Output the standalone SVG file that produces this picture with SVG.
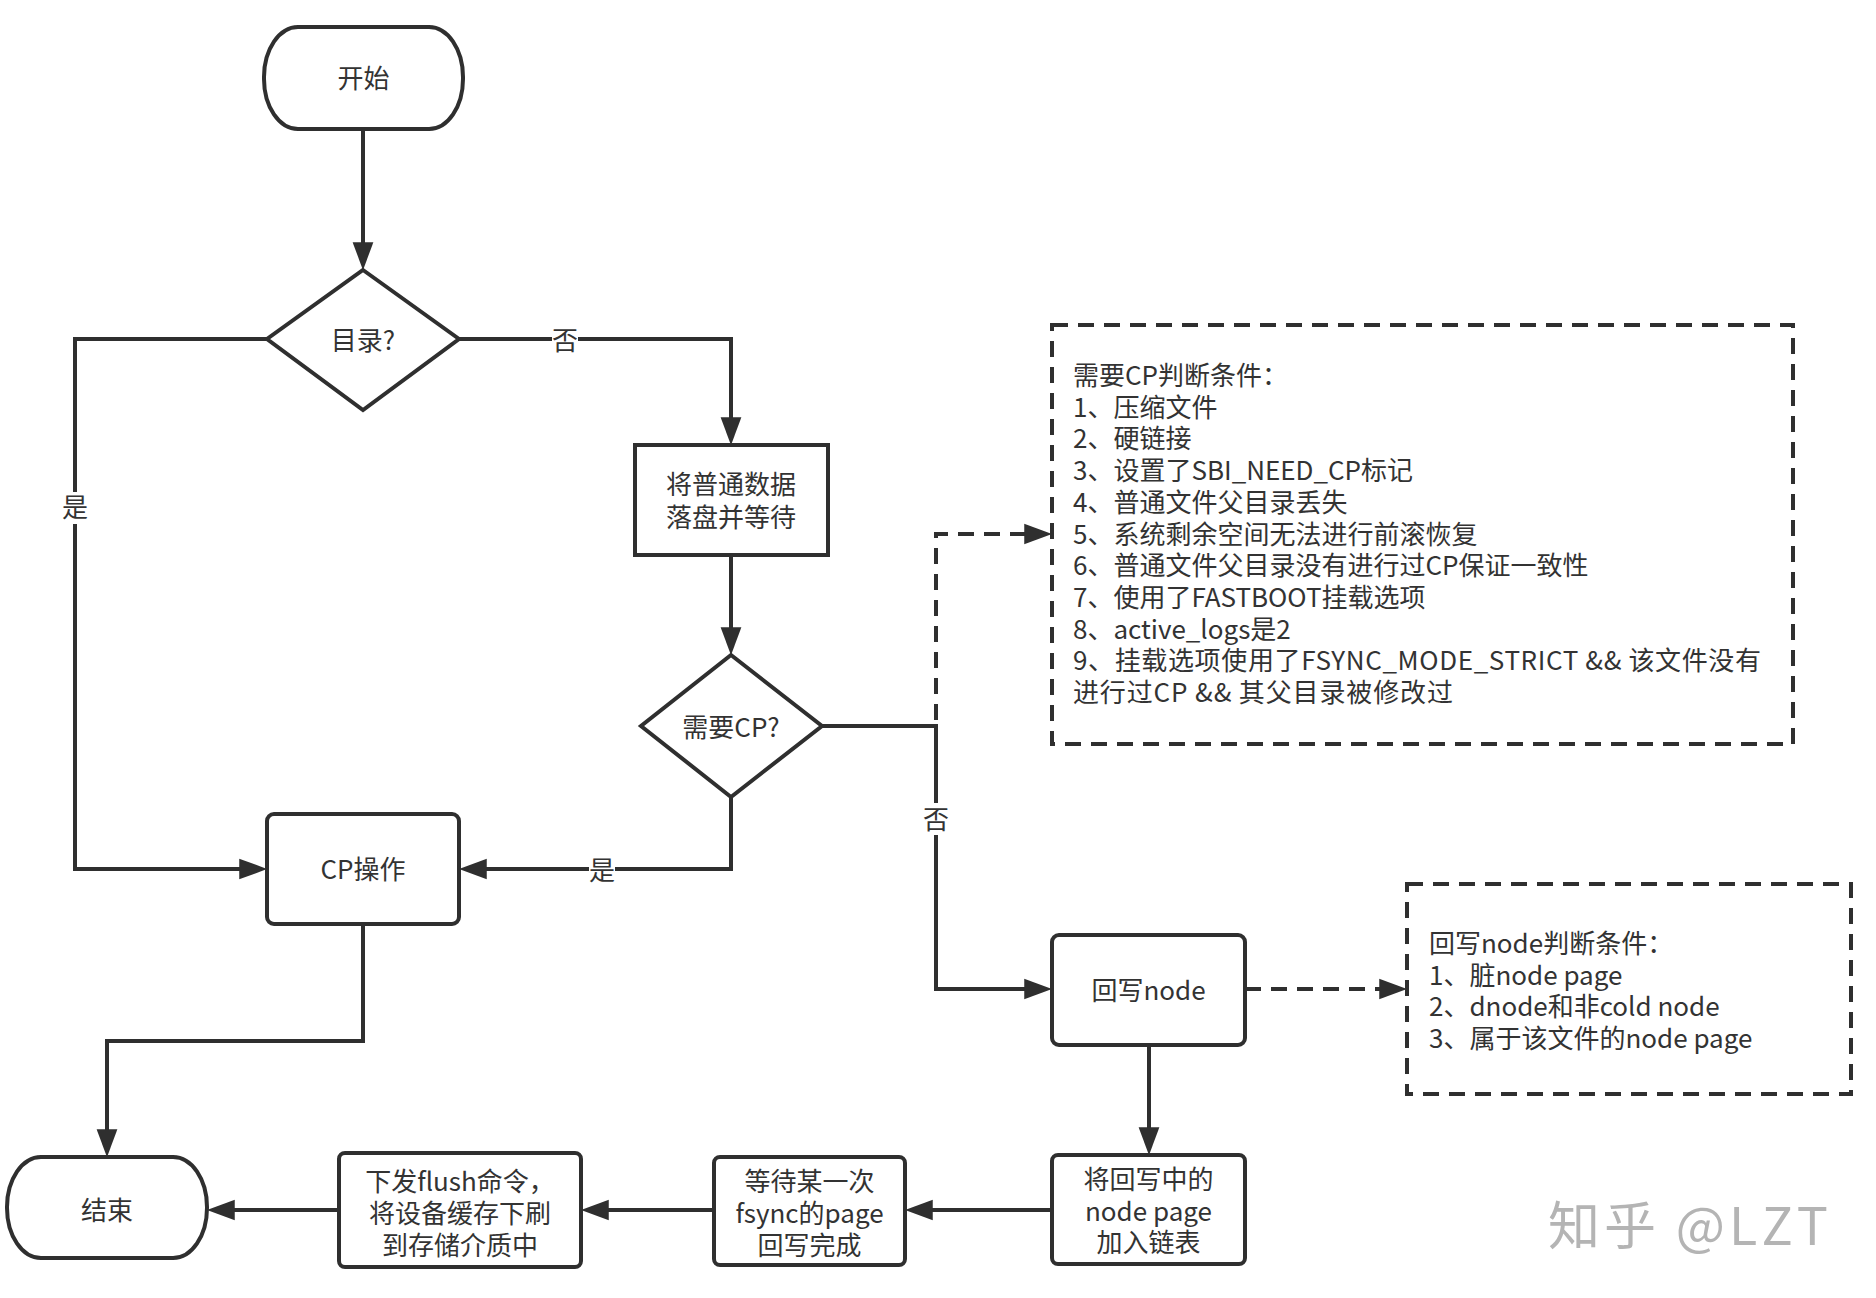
<svg xmlns="http://www.w3.org/2000/svg" width="1876" height="1298" viewBox="0 0 1876 1298">
<defs>
<style>
.n{fill:#fff;stroke:#2f2f2f;stroke-width:4}
.d{fill:none;stroke:#2f2f2f;stroke-width:4;stroke-dasharray:16 10}
.t{font-family:"Noto Sans CJK SC","Noto Sans",sans-serif;font-size:26px;fill:#333;dominant-baseline:central}
.c{text-anchor:middle}
.e{fill:none;stroke:#2f2f2f;stroke-width:4}
.ed{fill:none;stroke:#2f2f2f;stroke-width:4;stroke-dasharray:16 10}
.lb{fill:#fff;stroke:none}
</style>
<marker id="ah" markerUnits="userSpaceOnUse" markerWidth="28" markerHeight="22" viewBox="0 0 27 20" refX="21" refY="10" orient="auto">
<path d="M0,0 L27,10 L0,20 z" fill="#2f2f2f"/>
</marker>
</defs>
<rect width="1876" height="1298" fill="#fff"/>
<g id="connectors">
<path class="e" d="M363,129 V264" marker-end="url(#ah)"/>
<path class="e" d="M267,339 H75 V869 H261" marker-end="url(#ah)"/>
<path class="e" d="M459,339 H731 V439" marker-end="url(#ah)"/>
<path class="e" d="M731,555 V649" marker-end="url(#ah)"/>
<path class="e" d="M822,726 H936 V989 H1046" marker-end="url(#ah)"/>
<path class="ed" d="M936,720 V534 H1046" marker-end="url(#ah)"/>
<path class="e" d="M731,797 V869 H465" marker-end="url(#ah)"/>
<path class="e" d="M363,924 V1041 H107 V1151" marker-end="url(#ah)"/>
<path class="e" d="M1149,1045 V1149" marker-end="url(#ah)"/>
<path class="e" d="M1052,1210 H911" marker-end="url(#ah)"/>
<path class="e" d="M714,1210 H587" marker-end="url(#ah)"/>
<path class="e" d="M339,1210 H213" marker-end="url(#ah)"/>
<path class="ed" d="M1245,989 H1401" marker-end="url(#ah)"/>
<rect class="lb" x="62" y="492" width="26" height="32"/>
<text class="t c" x="75" y="505">是</text>
<rect class="lb" x="552" y="325" width="26" height="30"/>
<text class="t c" x="565" y="338">否</text>
<rect class="lb" x="923" y="803" width="26" height="32"/>
<text class="t c" x="936" y="817">否</text>
<rect class="lb" x="589" y="855" width="26" height="30"/>
<text class="t c" x="602" y="868">是</text>
</g>
<g id="start">
<rect class="n" x="264" y="27" width="199" height="102" rx="34" ry="50"/>
<text class="t c" x="363.5" y="76">开始</text>
</g>
<g id="isdir">
<polygon class="n" points="363,270 459,339 363,410 267,339"/>
<text class="t c" x="363" y="338">目录?</text>
</g>
<g id="flushdata">
<rect class="n" x="635" y="445" width="193" height="110"/>
<text class="t c" x="731" y="482">将普通数据</text>
<text class="t c" x="731" y="515">落盘并等待</text>
</g>
<g id="needcp">
<polygon class="n" points="731,655 822,726 731,797 641,726"/>
<text class="t c" x="731" y="725">需要CP?</text>
</g>
<g id="cpop">
<rect class="n" x="267" y="814" width="192" height="110" rx="7"/>
<text class="t c" x="363" y="867">CP操作</text>
</g>
<g id="end">
<rect class="n" x="7" y="1157" width="200" height="101" rx="34" ry="50"/>
<text class="t c" x="107" y="1208">结束</text>
</g>
<g id="flushcmd">
<rect class="n" x="339" y="1153" width="242" height="114" rx="6"/>
<text class="t c" x="460" y="1179">下发flush命令，</text>
<text class="t c" x="460" y="1211">将设备缓存下刷</text>
<text class="t c" x="460" y="1243">到存储介质中</text>
</g>
<g id="waitfsync">
<rect class="n" x="714" y="1157" width="191" height="108" rx="6"/>
<text class="t c" x="809.5" y="1179">等待某一次</text>
<text class="t c" x="809.5" y="1211">fsync的page</text>
<text class="t c" x="809.5" y="1243">回写完成</text>
</g>
<g id="addlist">
<rect class="n" x="1052" y="1155" width="193" height="109" rx="6"/>
<text class="t c" x="1148.5" y="1177">将回写中的</text>
<text class="t c" x="1148.5" y="1209">node page</text>
<text class="t c" x="1148.5" y="1240">加入链表</text>
</g>
<g id="writenode">
<rect class="n" x="1052" y="935" width="193" height="110" rx="7"/>
<text class="t c" x="1148.5" y="988">回写node</text>
</g>
<g id="cpcond">
<rect class="d" x="1052" y="325" width="741" height="419"/>
<text class="t" x="1073" y="373">需要CP判断条件：</text>
<text class="t" x="1073" y="405">1、压缩文件</text>
<text class="t" x="1073" y="436">2、硬链接</text>
<text class="t" x="1073" y="468">3、设置了SBI_NEED_CP标记</text>
<text class="t" x="1073" y="500">4、普通文件父目录丢失</text>
<text class="t" x="1073" y="532">5、系统剩余空间无法进行前滚恢复</text>
<text class="t" x="1073" y="563">6、普通文件父目录没有进行过CP保证一致性</text>
<text class="t" x="1073" y="595">7、使用了FASTBOOT挂载选项</text>
<text class="t" x="1073" y="627">8、active_logs是2</text>
<text class="t" x="1073" y="658" textLength="688" lengthAdjust="spacing">9、挂载选项使用了FSYNC_MODE_STRICT &amp;&amp; 该文件没有</text>
<text class="t" x="1073" y="690" textLength="380" lengthAdjust="spacing">进行过CP &amp;&amp; 其父目录被修改过</text>
</g>
<g id="nodecond">
<rect class="d" x="1407" y="884" width="444" height="210"/>
<text class="t" x="1429" y="941">回写node判断条件：</text>
<text class="t" x="1429" y="973">1、脏node page</text>
<text class="t" x="1429" y="1004">2、dnode和非cold node</text>
<text class="t" x="1429" y="1036">3、属于该文件的node page</text>
</g>
<g id="watermark">
<text x="1548" y="1222" font-family="'Noto Sans CJK SC','Noto Sans',sans-serif" font-size="52" fill="#b4b4b4" dominant-baseline="central" textLength="280" lengthAdjust="spacing">知乎 @LZT</text>
</g>
</svg>
